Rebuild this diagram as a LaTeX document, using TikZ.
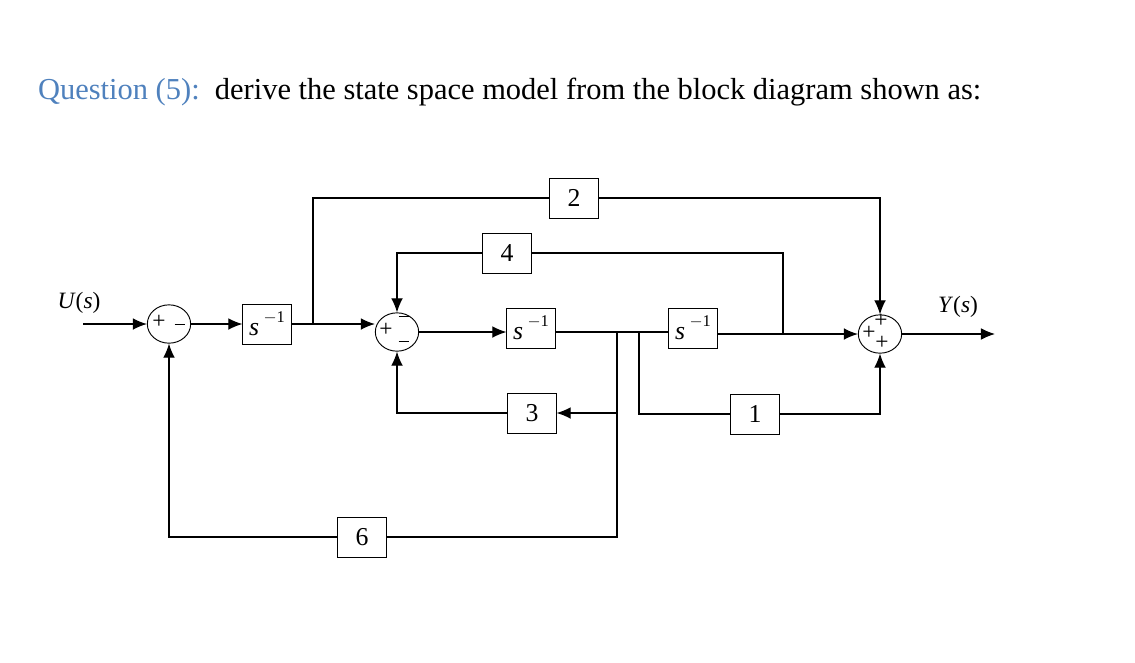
\documentclass[tikz,border=0pt]{standalone}
\usepackage{fontspec}
\setmainfont{Liberation Serif}
\usetikzlibrary{shapes.geometric,arrows.meta}
\definecolor{titleblue}{RGB}{79,129,189}
\newcommand{\sinv}{\textit{s}\,\raisebox{1.1ex}{\fontsize{14}{14}\selectfont$-$1}}
\tikzset{
  blk/.style={draw, rectangle, line width=0.8pt, minimum width=1.45cm, minimum height=1.2cm, font=\fontsize{22}{24}\selectfont},
  sum/.style={draw, ellipse, line width=0.8pt, minimum width=1.3cm, minimum height=1.15cm},
  sig/.style={font=\fontsize{20}{20}\selectfont},
  line/.style={line width=1pt},
  arr/.style={line width=1pt, -{Latex[length=12pt,width=10pt]}}
}
\begin{document}
\begin{tikzpicture}[x=0.03cm, y=-0.03cm]
            \useasboundingbox (0,0) rectangle (1135,662);
            % Title
            \node[anchor=west, font=\fontsize{26}{28}\selectfont] (title) at (34,92) {\textcolor{titleblue}{Question (5):}\ \ derive the state space model from the block diagram shown as:};
            
            % Summing points
            \node[sum] (sum1) at (169,324) {};
            \node[sum] (sum2) at (397,332) {};
            \node[sum] (sum3) at (880,334) {};
            \node[sig] at (159,322) {+};
            \node[sig] at (180,326) {\rule[2pt]{9pt}{0.7pt}};
            \node[sig] at (386,330) {+};
            \node[sig] at (404,318) {\rule[2pt]{9pt}{0.7pt}};
            \node[sig] at (404,343) {\rule[2pt]{9pt}{0.7pt}};
            \node[sig] at (881,321) {+};
            \node[sig] at (869,333) {+};
            \node[sig] at (882,343) {+};
            
            % Integrators
            \node[blk] (int1) at (267,324) {\sinv};
            \node[blk] (int2) at (531,328) {\sinv};
            \node[blk] (int3) at (693,328) {\sinv};
            
            % Gains
            \node[blk] (g2) at (574,198) {2};
            \node[blk] (g4) at (507,253) {4};
            \node[blk] (g3) at (532,413) {3};
            \node[blk] (g1) at (755,414) {1};
            \node[blk] (g6) at (362,537) {6};
            
            % Labels
            \node[font=\fontsize{20}{20}\selectfont] (ulab) at (79,303) {\textit{U}(\textit{s})};
            \node[font=\fontsize{20}{20}\selectfont] (ylab) at (958,307) {\textit{Y}(\textit{s})};
            \coordinate (uin) at (83,324);
            \coordinate (yout) at (995,334);
            \coordinate (p1) at (313,324);
            \coordinate (p2) at (617,332);
            \coordinate (p3) at (639,332);
            \coordinate (p4) at (783,334);
            
            % Arrows
            \draw[arr] (uin) -- (sum1);
            \draw[arr] (sum1) -- (int1);
            \draw[arr] (int1.east) -- (sum2.west |- int1.east);
            \draw[arr] (sum2) -- (int2.west |- sum2);
            \draw[line] (int2.east |- p2) -- (int3.west |- p2);
            \draw[arr] (int3.east |- sum3) -- (sum3);
            \draw[arr] (sum3) -- (yout);
            \draw[line] (p1) |- (g2);
            \draw[arr] (g2) -| (sum3);
            \draw[arr] (g4) -| (sum2);
            \draw[line] (g4) -| (p4);
            \draw[arr] (g3) -| (sum2);
            \draw[arr] (p2) |- (g3);
            \draw[line] (p2) |- (g6);
            \draw[arr] (g6) -| (sum1);
            \draw[line] (p3) |- (g1);
            \draw[arr] (g1) -| (sum3);
        \end{tikzpicture}
\end{document}
